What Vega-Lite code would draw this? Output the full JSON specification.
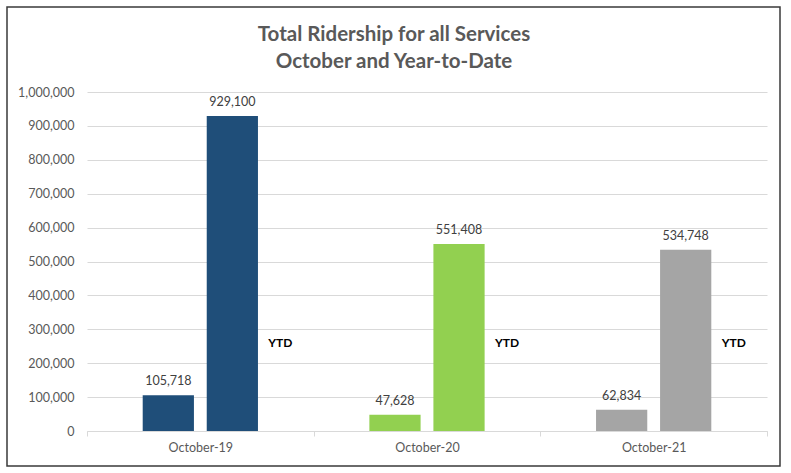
{
  "$schema": "https://vega.github.io/schema/vega-lite/v6.json",
  "width": 680,
  "height": 339,
  "autosize": {"type": "none"},
  "padding": {"left": 87, "top": 92, "right": 24, "bottom": 42},
  "background": "white",
  "title": {
    "text": ["Total Ridership for all Services", "October and Year-to-Date"],
    "font": "Lato",
    "fontSize": 20.5,
    "fontWeight": "bold",
    "color": "#595959",
    "lineHeight": 27,
    "anchor": "middle",
    "frame": "group",
    "dx": -33,
    "offset": -66
  },
  "config": {
    "view": {"stroke": null},
    "font": "Lato",
    "axis": {"labelFont": "Lato", "labelColor": "#595959", "labelFontSize": 12.5}
  },
  "layer": [
    {
      "data": {"values": [{}]},
      "mark": {"type": "rect", "fill": null, "stroke": "#3a3a3a", "strokeWidth": 1.5, "clip": false},
      "encoding": {
        "x": {"value": -80},
        "x2": {"value": 693},
        "y": {"value": -85},
        "y2": {"value": 374}
      }
    },
    {
      "data": {
        "values": [
          {"month": "October-19", "series": "October", "value": 105718},
          {"month": "October-19", "series": "YTD", "value": 929100},
          {"month": "October-20", "series": "October", "value": 47628},
          {"month": "October-20", "series": "YTD", "value": 551408},
          {"month": "October-21", "series": "October", "value": 62834},
          {"month": "October-21", "series": "YTD", "value": 534748}
        ]
      },
      "encoding": {
        "x": {
          "field": "month",
          "type": "nominal",
          "sort": null,
          "scale": {"paddingInner": 0, "paddingOuter": 0},
          "axis": {
            "title": null,
            "labelAngle": 0,
            "tickBand": "extent",
            "domainColor": "#D9D9D9",
            "tickColor": "#D9D9D9",
            "tickSize": 5,
            "labelPadding": 5,
            "grid": false
          }
        },
        "xOffset": {
          "field": "series",
          "type": "nominal",
          "scale": {"paddingInner": 0.2, "paddingOuter": 0.87}
        },
        "y": {
          "field": "value",
          "type": "quantitative",
          "scale": {"domain": [0, 1000000]},
          "axis": {
            "title": null,
            "tickCount": 10,
            "format": ",d",
            "domain": false,
            "ticks": false,
            "labelPadding": 13,
            "gridColor": "#D9D9D9",
            "gridWidth": 1
          }
        }
      },
      "layer": [
        {
          "mark": {"type": "bar"},
          "encoding": {
            "color": {
              "field": "month",
              "type": "nominal",
              "scale": {"domain": ["October-19", "October-20", "October-21"], "range": ["#1F4E79", "#92D050", "#A5A5A5"]},
              "legend": null
            }
          }
        },
        {
          "mark": {"type": "text", "baseline": "bottom", "dy": -7, "fontSize": 12.5, "color": "#404040"},
          "encoding": {
            "text": {"field": "value", "type": "quantitative", "format": ",d"}
          }
        },
        {
          "transform": [{"filter": "datum.series === 'YTD'"}],
          "mark": {"type": "text", "align": "left", "baseline": "middle", "dx": 36, "fontSize": 12, "fontWeight": "bold", "color": "#000000"},
          "encoding": {
            "y": {"datum": 260000, "type": "quantitative"},
            "text": {"field": "series"}
          }
        }
      ]
    }
  ]
}
